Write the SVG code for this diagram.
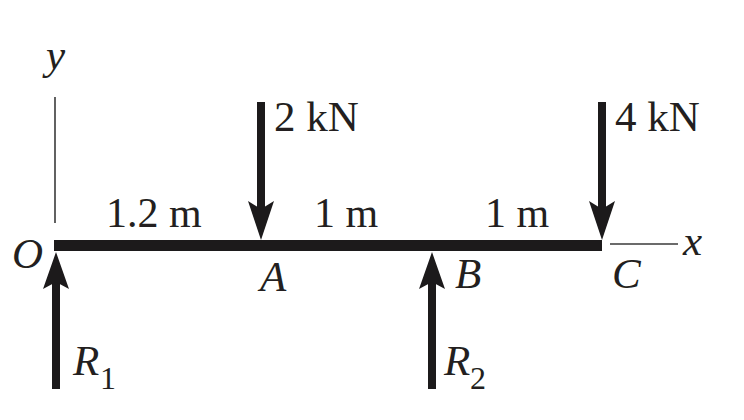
<svg xmlns="http://www.w3.org/2000/svg" width="744" height="420" viewBox="0 0 744 420">
<style>
text{font-family:"Liberation Serif",serif;font-size:43px;fill:#231f20}
.i{font-style:italic}
.d{font-size:42px}
.s{font-size:32px}
.thin{stroke:#3a3a3a;stroke-width:1.6;fill:none}
.shaft{stroke:#1c1a1b;stroke-width:8;fill:none}
.head{fill:#1c1a1b}
</style>
<defs>
<path id="dn" class="head" d="M-13 -39 L0 -31 L13 -39 L0 0 Z"/>
<path id="up" class="head" d="M-13 37 L0 30 L13 37 L0 0 Z"/>
</defs>
<rect width="744" height="420" fill="#fff"/>
<g id="connectors">
<path class="thin" d="M55 97V223"/>
<path class="thin" d="M610 244H678"/>
<path class="shaft" d="M261 102V212"/>
<use href="#dn" x="261" y="240"/>
<path class="shaft" d="M602 102V212"/>
<use href="#dn" x="602" y="240"/>
<path class="shaft" d="M56 389V280"/>
<use href="#up" x="56" y="252"/>
<path class="shaft" d="M432 389V280"/>
<use href="#up" x="432" y="252"/>
</g>
<g id="beam"><rect x="54" y="240" width="548" height="11" fill="#1c1a1b"/></g>
<g id="labels">
<text class="i" x="46" y="69">y</text>
<text x="274" y="131">2 kN</text>
<text x="615" y="131">4 kN</text>
<text class="d" x="106" y="227">1.2 m</text>
<text class="d" x="314" y="227">1 m</text>
<text class="d" x="485" y="227">1 m</text>
<text class="i" x="12" y="268">O</text>
<text class="i" x="260" y="291">A</text>
<text class="i" x="455" y="288">B</text>
<text class="i" x="612" y="288">C</text>
<text class="i" x="683" y="255">x</text>
<text class="i" x="73" y="375">R</text>
<text class="s" x="100" y="389">1</text>
<text class="i" x="444" y="375">R</text>
<text class="s" x="470" y="389">2</text>
</g>
</svg>
